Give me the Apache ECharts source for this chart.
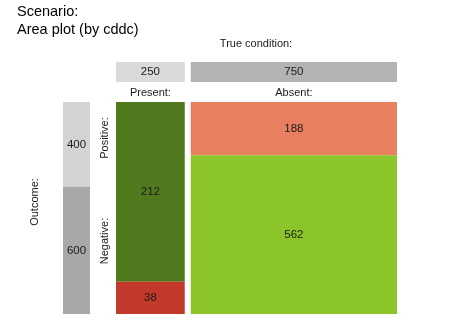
<!DOCTYPE html>
<html>
<head>
<meta charset="utf-8">
<script src="https://cdn.jsdelivr.net/npm/echarts@6/dist/echarts.min.js"></script>
<style>
  html, body { margin: 0; padding: 0; background: #fff; }
  #chart { width: 474px; height: 328px; }
</style>
</head>
<body>
<div id="chart"></div>
<script>
// Population split by true condition (columns) and test outcome (rows)
const titleLines = ['Scenario:', 'Area plot (by cddc)'];
const condNames = ['Present:', 'Absent:'];
const condTotals = [250, 750];
const decNames = ['Positive:', 'Negative:'];
const decTotals = [400, 600];
// cell counts per condition: [positive outcome, negative outcome]
const cellCounts = [
  [212, 38],   // Present: hits, misses
  [188, 562]   // Absent: false alarms, correct rejections
];

const FONT = 'Liberation Sans, Arial, sans-serif';
const GAP_PX = 6;
const condColors = ['#dadada', '#b3b3b3'];
const decColors = ['#d4d4d4', '#a8a8a8'];
const cellColors = [
  ['#517a1f', '#c3392c'],
  ['#e8805f', '#8cc52a']
];
const labelColor = '#1a1a1a';

const N = condTotals.reduce((a, b) => a + b, 0);

// Cumulative extents along the condition axis
const condData = [];
let acc = 0;
condTotals.forEach((v, i) => {
  condData.push([acc, acc + v, v, i]);
  acc += v;
});

// Cumulative extents along the outcome axis
const decData = [];
acc = 0;
decTotals.forEach((v, i) => {
  decData.push([acc, acc + v, v, i]);
  acc += v;
});

// Mosaic cells: x-extent from condition totals, y-extent as share within column
const cellData = [];
condData.forEach(([x0, x1, tot, ci]) => {
  let yAcc = 0;
  cellCounts[ci].forEach((v, ri) => {
    cellData.push([x0, x1, yAcc / tot, (yAcc + v) / tot, v, ci, ri]);
    yAcc += v;
  });
});

const hiddenValue = (grid, min, max, extra) => Object.assign({
  type: 'value', gridIndex: grid, min: min, max: max, show: false
}, extra || {});

const textStyle = (txt, x, y, size, extra) => ({
  type: 'text',
  x: x, y: y,
  style: Object.assign({
    text: txt, fill: labelColor, font: size + 'px ' + FONT,
    align: 'center', verticalAlign: 'middle'
  }, extra || {})
});

const chart = echarts.init(document.getElementById('chart'), null, { renderer: 'canvas' });

chart.setOption({
  animation: false,
  backgroundColor: '#ffffff',
  grid: [
    { left: 116, top: 62, width: 275, height: 20 },
    { left: 63, top: 102, width: 27, height: 212 },
    { left: 116, top: 102, width: 275, height: 212 }
  ],
  xAxis: [
    hiddenValue(0, 0, N),
    hiddenValue(1, 0, 1),
    hiddenValue(2, 0, N)
  ],
  yAxis: [
    hiddenValue(0, 0, 1),
    hiddenValue(1, 0, N, { inverse: true }),
    hiddenValue(2, 0, 1, { inverse: true })
  ],
  graphic: [
    {
      type: 'text', left: 17, top: 3,
      style: {
        text: titleLines.join('\n'), fill: '#000',
        font: '14.5px ' + FONT, lineHeight: 18
      }
    },
    textStyle('True condition:', 256, 44, 11),
    {
      type: 'text', x: 35, y: 202, rotation: Math.PI / 2,
      style: { text: 'Outcome:', fill: labelColor, font: '11px ' + FONT, align: 'center', verticalAlign: 'middle' }
    },
    {
      type: 'text', x: 105, y: 138, rotation: Math.PI / 2,
      style: { text: decNames[0], fill: labelColor, font: '11px ' + FONT, align: 'center', verticalAlign: 'middle' }
    },
    {
      type: 'text', x: 105, y: 241, rotation: Math.PI / 2,
      style: { text: decNames[1], fill: labelColor, font: '11px ' + FONT, align: 'center', verticalAlign: 'middle' }
    }
  ],
  series: [
    {
      // condition totals along the top
      type: 'custom', xAxisIndex: 0, yAxisIndex: 0, clip: false,
      data: condData,
      renderItem: function (params, api) {
        const i = api.value(3);
        const a = api.coord([api.value(0), 1]);
        const b = api.coord([api.value(1), 0]);
        const off = i * GAP_PX;
        const x = a[0] + off, y = a[1], w = b[0] - a[0], h = b[1] - a[1];
        return {
          type: 'group',
          children: [
            { type: 'rect', shape: { x: x, y: y, width: w, height: h }, style: { fill: condColors[i] } },
            textStyle(String(api.value(2)), x + w / 2, y + h / 2, 11.5),
            textStyle(condNames[i], x + w / 2, b[1] + 11, 11)
          ]
        };
      }
    },
    {
      // outcome totals on the left
      type: 'custom', xAxisIndex: 1, yAxisIndex: 1, clip: false,
      data: decData,
      renderItem: function (params, api) {
        const i = api.value(3);
        const a = api.coord([0, api.value(0)]);
        const b = api.coord([1, api.value(1)]);
        const x = a[0], y = a[1], w = b[0] - a[0], h = b[1] - a[1];
        return {
          type: 'group',
          children: [
            { type: 'rect', shape: { x: x, y: y, width: w, height: h }, style: { fill: decColors[i] } },
            textStyle(String(api.value(2)), x + w / 2, y + h / 2, 11.5)
          ]
        };
      }
    },
    {
      // mosaic cells
      type: 'custom', xAxisIndex: 2, yAxisIndex: 2, clip: false,
      data: cellData,
      renderItem: function (params, api) {
        const ci = api.value(5), ri = api.value(6);
        const a = api.coord([api.value(0), api.value(2)]);
        const b = api.coord([api.value(1), api.value(3)]);
        const off = ci * GAP_PX;
        const x = a[0] + off, y = a[1], w = b[0] - a[0], h = b[1] - a[1];
        return {
          type: 'group',
          children: [
            { type: 'rect', shape: { x: x, y: y, width: w, height: h }, style: { fill: cellColors[ci][ri] } },
            textStyle(String(api.value(4)), x + w / 2, y + h / 2, 11.5)
          ]
        };
      }
    }
  ]
});
</script>
</body>
</html>
